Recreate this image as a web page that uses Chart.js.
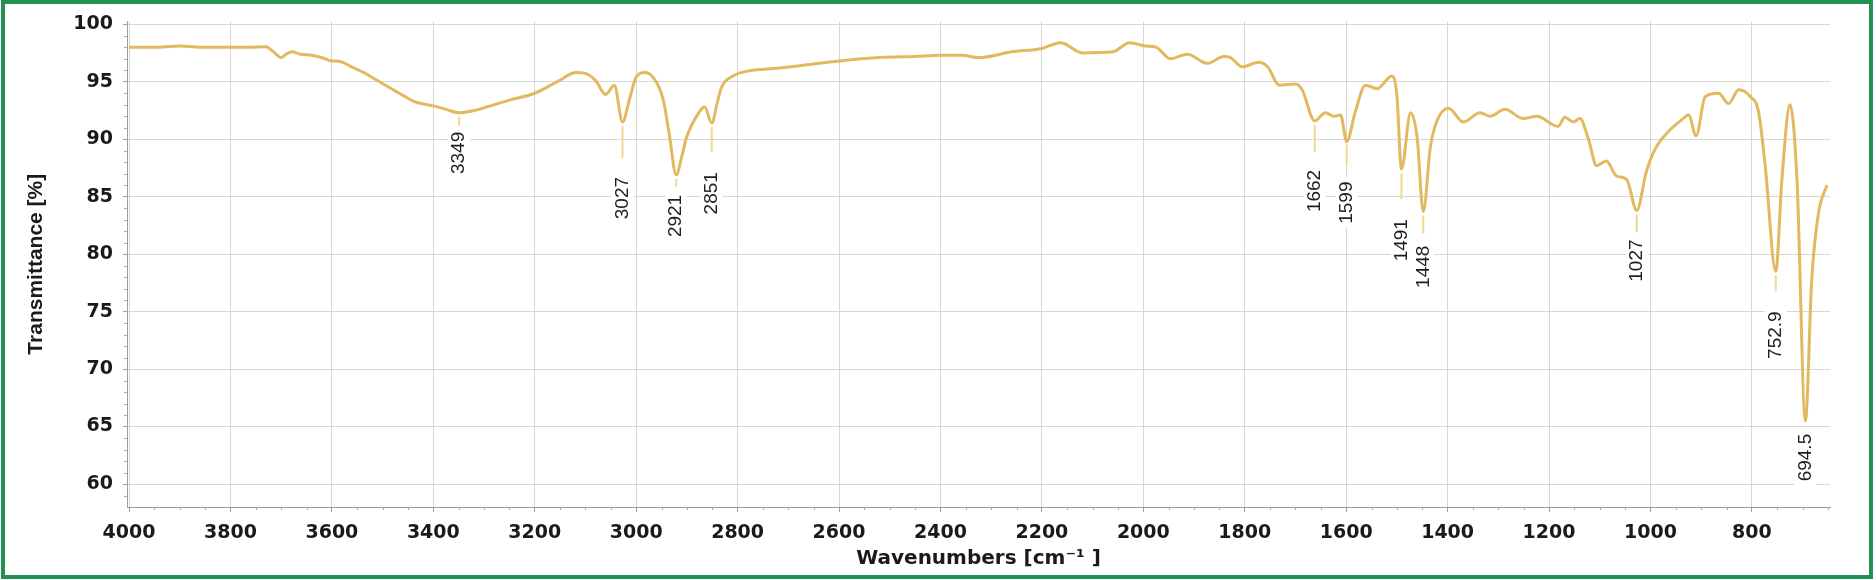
<!DOCTYPE html>
<html>
<head>
<meta charset="utf-8">
<script src="https://cdn.jsdelivr.net/npm/chart.js@4.4.1/dist/chart.umd.min.js"></script>
<style>
  html, body { margin: 0; padding: 0; background: #fff; }
  #wrap { position: relative; width: 1876px; height: 580px; }
  #frame { position: absolute; left: 1px; top: 0; width: 1872px; height: 579px; box-sizing: border-box;
           border: 4px solid #24904f; pointer-events: none; }
  canvas { display: block; }
</style>
</head>
<body>
<div id="wrap">
  <canvas id="irChart" width="1876" height="580"></canvas>
  <div id="frame"></div>
</div>
<script>
// -------------------- DATA --------------------
const wavenumbers = [
  4000, 3950, 3900, 3850, 3800, 3760, 3730, 3715, 3700, 3690, 3679, 3662, 3640, 3613, 3600, 3590,
  3557, 3533, 3518, 3479, 3467, 3439, 3400, 3375, 3349, 3320, 3295, 3250, 3200, 3152, 3119, 3099,
  3080, 3060, 3043, 3027, 3013, 3000, 2983, 2967, 2947, 2935, 2921, 2910, 2901, 2875, 2865, 2851,
  2840, 2832, 2809, 2770, 2743, 2677, 2600, 2520, 2450, 2400, 2357, 2325, 2260, 2200, 2163, 2120,
  2060, 2027, 1995, 1975, 1946, 1913, 1874, 1841, 1828, 1805, 1772, 1755, 1732, 1700, 1687, 1662,
  1641, 1624, 1611, 1599, 1582, 1562, 1539, 1510, 1500, 1491, 1473, 1460, 1448, 1434, 1421, 1398,
  1369, 1336, 1316, 1287, 1251, 1224, 1182, 1169, 1152, 1139, 1123, 1106, 1087, 1067, 1047, 1027,
  1008, 990, 964, 938, 925, 910, 892, 866, 846, 826, 803, 787, 774, 752.9, 741, 725, 711, 694.5,
  682, 669, 652
];
const transmittance = [
  98.0, 98.0, 98.1, 98.0, 98.0, 98.0, 98.05, 97.6, 97.1, 97.4, 97.6, 97.4, 97.3, 97.0, 96.8, 96.8,
  96.2, 95.7, 95.3, 94.3, 94.0, 93.3, 92.9, 92.6, 92.3, 92.5, 92.8, 93.4, 94.0, 95.1, 95.8, 95.7,
  95.1, 93.9, 94.7, 91.5, 93.5, 95.4, 95.8, 95.4, 93.5, 90.5, 86.9, 88.5, 90.1, 92.4, 92.8, 91.4,
  93.2, 94.5, 95.5, 96.0, 96.1, 96.4, 96.8, 97.1, 97.2, 97.3, 97.3, 97.1, 97.6, 97.9, 98.4, 97.5,
  97.6, 98.4, 98.1, 98.0, 97.0, 97.4, 96.6, 97.2, 97.1, 96.3, 96.7, 96.3, 94.7, 94.8, 94.3, 91.6,
  92.3, 92.0, 92.1, 89.8, 92.4, 94.7, 94.4, 95.5, 93.8, 87.4, 92.3, 90.1, 83.7, 89.3, 91.6, 92.7,
  91.5, 92.3, 92.0, 92.6, 91.8, 92.0, 91.1, 91.9, 91.5, 91.8, 90.1, 87.7, 88.1, 86.8, 86.5, 83.8,
  87.2, 89.2, 90.7, 91.7, 92.1, 90.3, 93.7, 94.0, 93.1, 94.3, 93.7, 92.4, 87.8, 78.5, 86.4, 93.0, 86.4, 65.5,
  77.8, 83.5, 86.0
];

const peakWavenumbers = [3349, 3027, 2921, 2851, 1662, 1599, 1491, 1448, 1027, 752.9, 694.5];
const peakLabels = ["3349", "3027", "2921", "2851", "1662", "1599", "1491", "1448", "1027", "752.9", "694.5"];

const xTicks = [800, 1000, 1200, 1400, 1600, 1800, 2000, 2200, 2400, 2600, 2800, 3000, 3200, 3400, 3600, 3800, 4000];
const yTicks = [60, 65, 70, 75, 80, 85, 90, 95, 100];

// label layout (px below the peak): end of leader line, top of the text
const leaderEnd = [13, 36, 12, 29, 31, 23, 30, 22, 22, 20, 0];
const labelDrop = [19, 55, 20, 49, 49, 40, 50, 34, 29, 40, 13];

// -------------------- PLUGINS --------------------
const tickFont = { family: "DejaVu Sans", weight: "bold", size: 19 };

const minorTicks = {
  id: "minorTicks",
  afterDraw(chart) {
    const { ctx, chartArea, scales: { x, y } } = chart;
    ctx.save();
    ctx.strokeStyle = "#a8a8a8";
    ctx.lineWidth = 1;
    ctx.beginPath();
    for (let v = 650; v <= 4000; v += 50) {
      if (v % 200 === 0) continue;
      const px = Math.round(x.getPixelForValue(v)) + 0.5;
      ctx.moveTo(px, chartArea.bottom);
      ctx.lineTo(px, chartArea.bottom + 3);
    }
    for (let v = 59; v <= 100; v++) {
      if (v % 5 === 0) continue;
      const py = Math.round(y.getPixelForValue(v)) + 0.5;
      ctx.moveTo(chartArea.left - 3, py);
      ctx.lineTo(chartArea.left, py);
    }
    ctx.stroke();
    ctx.restore();
  }
};

const peakMarks = {
  id: "peakMarks",
  beforeDatasetsDraw(chart) {
    const { ctx, scales: { x, y } } = chart;
    ctx.save();
    ctx.font = '19px "Liberation Sans", Arial, sans-serif';
    peakWavenumbers.forEach((wn, i) => {
      const idx = wavenumbers.indexOf(wn);
      const px = x.getPixelForValue(wn);
      const py = y.getPixelForValue(transmittance[idx]);
      const top = py + labelDrop[i];
      const w = ctx.measureText(peakLabels[i]).width;

      ctx.fillStyle = "#ffffff";
      ctx.fillRect(px - 11, top - 4, 22, w + 8);

      if (leaderEnd[i] > 0) {
        ctx.strokeStyle = "#efd894";
        ctx.lineWidth = 2;
        ctx.beginPath();
        ctx.moveTo(px, py + 4);
        ctx.lineTo(px, py + leaderEnd[i]);
        ctx.stroke();
      }

      ctx.save();
      ctx.translate(px, top);
      ctx.rotate(-Math.PI / 2);
      ctx.textAlign = "right";
      ctx.textBaseline = "middle";
      ctx.fillStyle = "#1e1e1e";
      ctx.fillText(peakLabels[i], 0, 0);
      ctx.restore();
    });
    ctx.restore();
  }
};

// -------------------- CHART --------------------
const points = wavenumbers.map((wn, i) => ({ x: wn, y: transmittance[i] }));

const ctx = document.getElementById("irChart").getContext("2d");

const chart = new Chart(ctx, {
  type: "line",
  data: {
    datasets: [{
      data: points,
      borderColor: "#e2b95f",
      borderWidth: 3,
      pointRadius: 0,
      cubicInterpolationMode: "monotone",
      fill: false
    }]
  },
  plugins: [minorTicks, peakMarks],
  options: {
    responsive: false,
    animation: false,
    layout: { padding: { top: 15, right: 46, bottom: 0, left: 0 } },
    plugins: {
      legend: { display: false },
      tooltip: { enabled: false }
    },
    scales: {
      x: {
        type: "linear",
        reverse: true,
        min: 646,
        max: 4004,
        afterBuildTicks: (scale) => { scale.ticks = xTicks.map((v) => ({ value: v })); },
        afterFit: (scale) => { scale.height = 73; },
        grid: { color: "#d6d6d6", tickLength: 5, tickColor: "#a0a0a0" },
        border: { color: "#9c9c9c" },
        ticks: {
          font: tickFont, color: "#1a1a1a", padding: 10, maxRotation: 0, autoSkip: false,
          callback: (value) => String(value)
        },
        title: {
          display: true,
          text: "Wavenumbers [cm\u207B\u00B9 ]",
          color: "#1a1a1a",
          font: { family: "DejaVu Sans", weight: "bold", size: 20 },
          padding: { top: 0, bottom: 9 }
        }
      },
      y: {
        min: 58,
        max: 100.25,
        afterBuildTicks: (scale) => { scale.ticks = yTicks.map((v) => ({ value: v })); },
        afterFit: (scale) => { scale.width = 127; },
        grid: { color: "#d6d6d6", tickLength: 4, tickColor: "#a0a0a0" },
        border: { color: "#9c9c9c" },
        ticks: { font: tickFont, color: "#1a1a1a", padding: 10, callback: (value) => String(value) },
        title: {
          display: true,
          text: "Transmittance [%]",
          color: "#1a1a1a",
          font: { family: "Liberation Sans", weight: "bold", size: 21 },
          padding: { top: 24, bottom: 0 }
        }
      }
    }
  }
});
</script>
</body>
</html>
